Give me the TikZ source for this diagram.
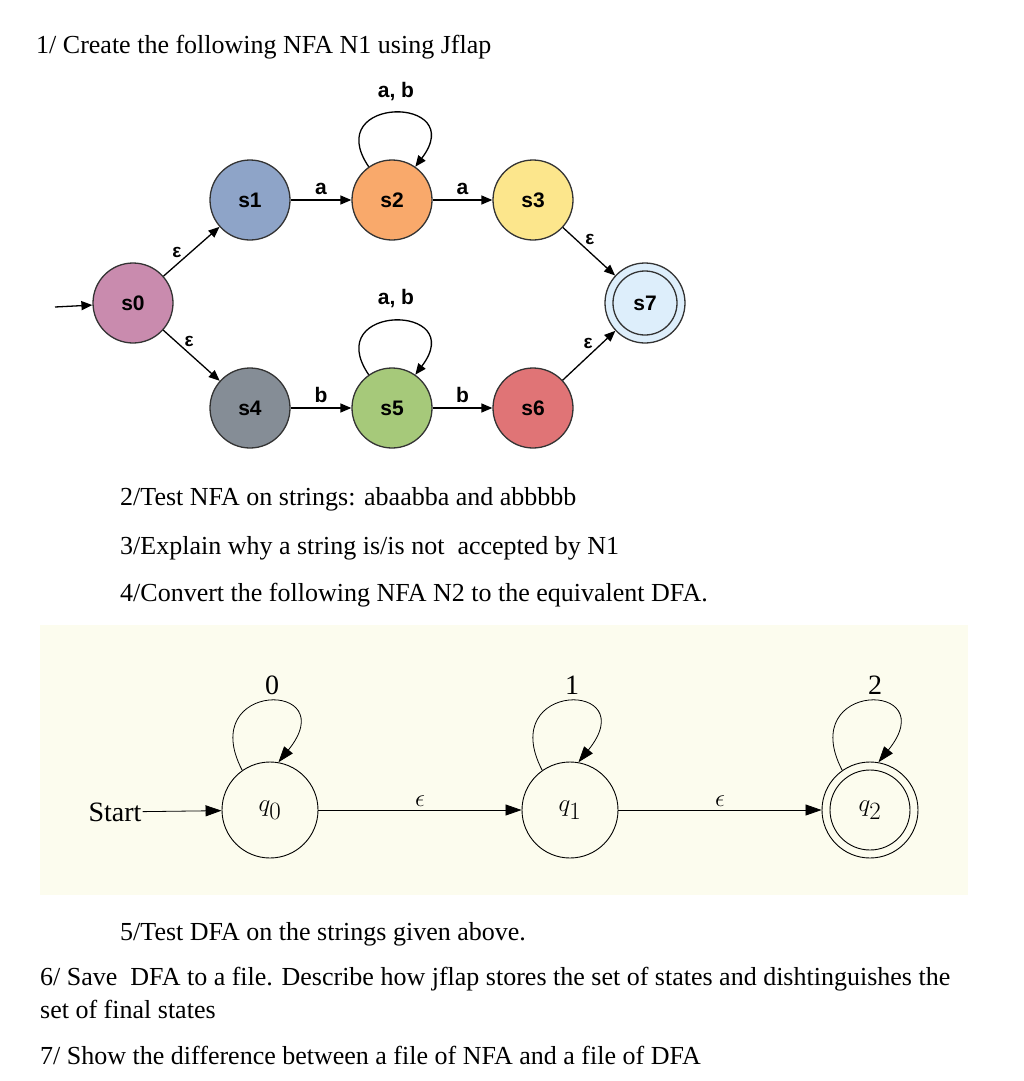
\documentclass[tikz,border=0pt]{standalone}
\usepackage{fontspec}
\setmainfont{Liberation Serif}
\newfontfamily\sansb{Liberation Sans}
\usetikzlibrary{arrows.meta}
\definecolor{cs0}{HTML}{C98BAE}\definecolor{cs1}{HTML}{8EA4C8}\definecolor{cs2}{HTML}{F9A96B}
\definecolor{cs3}{HTML}{FCE68C}\definecolor{cs4}{HTML}{858D96}\definecolor{cs5}{HTML}{A6C97A}
\definecolor{cs6}{HTML}{E07476}\definecolor{cs7}{HTML}{DDEEFB}\definecolor{bgy}{HTML}{FCFCEE}
\begin{document}
\begin{tikzpicture}[x=1pt,y=-1pt,
 txt/.style={anchor=base west,inner sep=0,font=\fontsize{26}{30}\selectfont},
 st/.style={circle,draw=black!80,line width=1.3pt,minimum size=80pt,inner sep=0,font=\sansb\bfseries\fontsize{21}{24}\selectfont},
 lb/.style={font=\sansb\bfseries\fontsize{21}{24}\selectfont,inner sep=1pt},
 eb/.style={font=\sansb\bfseries\fontsize{19}{22}\selectfont,inner sep=1pt},
 ar/.style={line width=1.3pt,-{Triangle[length=11pt,width=9pt]}},
 qs/.style={circle,draw,line width=0.9pt,minimum size=96pt,inner sep=0,font=\fontsize{36}{40}\selectfont},
 qa/.style={line width=0.8pt,-{Triangle[length=16pt,width=11pt]}},
 ql/.style={font=\fontsize{28}{32}\selectfont,inner sep=1pt}]
\useasboundingbox[fill=white] (0,0) rectangle (1024,1081);
\node[txt] (t1) at (36,54) {1/ Create the following NFA N1 using Jflap};
% NFA N1
\node[st,fill=cs0] (s0) at (133,303) {s0};
\node[st,fill=cs1] (s1) at (250,200) {s1};
\node[st,fill=cs2] (s2) at (392,200) {s2};
\node[st,fill=cs3] (s3) at (533,200) {s3};
\node[st,fill=cs7] (s7) at (645,303) {s7};
\node[circle,draw=black!80,line width=1.3pt,minimum size=64pt] (s7i) at (645,303) {};
\node[st,fill=cs4] (s4) at (250,408) {s4};
\node[st,fill=cs5] (s5) at (392,408) {s5};
\node[st,fill=cs6] (s6) at (533,408) {s6};
\coordinate (st0) at (55,307);
\draw[ar] (st0) -- (s0);
\draw[ar] (s0) -- node[eb,pos=0.35,above left]{ε} (s1);
\draw[ar] (s0) -- node[eb,pos=0.35,above right]{ε} (s4);
\draw[ar] (s1) -- node[lb,above=4pt]{a} (s2);
\draw[ar] (s2) -- node[lb,above=4pt]{a} (s3);
\draw[ar] (s4) -- node[lb,above=4pt]{b} (s5);
\draw[ar] (s5) -- node[lb,above=4pt]{b} (s6);
\draw[ar] (s3) -- node[eb,pos=0.4,above right]{ε} (s7);
\draw[ar] (s6) -- node[eb,pos=0.6,above left]{ε} (s7);
\draw[ar] (s2.125) .. controls (320,95) and (470,95) .. (s2.55);
\node[lb] (l2) at (396,92) {a, b};
\draw[ar] (s5.125) .. controls (320,303) and (470,303) .. (s5.55);
\node[lb] (l5) at (396,299) {a, b};
% texts
\node[txt] (t2) at (120,505) {2/Test NFA on strings: abaabba and abbbbb};
\node[txt] (t3) at (120,554) {3/Explain why a string is/is not\ \ accepted by N1};
\node[txt] (t4) at (120,601) {4/Convert the following NFA N2 to the equivalent DFA.};
% N2
\fill[bgy] (40,625) rectangle (968,895);
\node[qs] (q0) at (270,810) {$q_0$};
\node[qs] (q1) at (570,810) {$q_1$};
\node[qs] (q2) at (870,810) {$q_2$};
\node[circle,draw,line width=0.9pt,minimum size=80pt] (q2i) at (870,810) {};
\node[ql] (st) at (115,812) {Start};
\draw[qa] (st) -- (q0);
\draw[qa] (q0) -- node[ql,above=2pt]{$\epsilon$} (q1);
\draw[qa] (q1) -- node[ql,above=2pt]{$\epsilon$} (q2);
\draw[qa] (q0.125) .. controls (195,680) and (345,680) .. (q0.80);
\draw[qa] (q1.125) .. controls (495,680) and (645,680) .. (q1.80);
\draw[qa] (q2.125) .. controls (795,680) and (945,680) .. (q2.80);
\node[ql] (l0) at (272,685) {0};
\node[ql] (l1) at (572,685) {1};
\node[ql] (l2b) at (875,685) {2};
\node[txt] (t5) at (120,940) {5/Test DFA on the strings given above.};
\node[txt] (t6) at (40,985) {6/ Save\ \ DFA to a file. Describe how jflap stores the set of states and dishtinguishes the};
\node[txt] (t6b) at (40,1018) {set of final states};
\node[txt] (t7) at (40,1064) {7/ Show the difference between a file of NFA and a file of DFA};
\end{tikzpicture}
\end{document}
